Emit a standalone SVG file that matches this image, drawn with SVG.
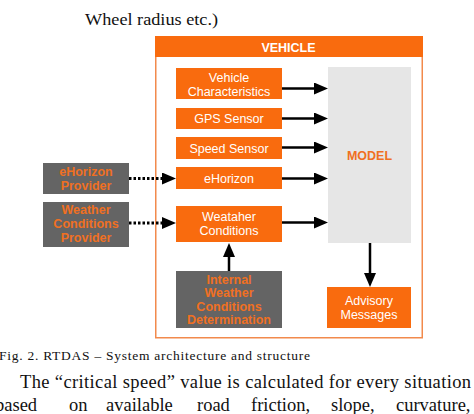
<svg xmlns="http://www.w3.org/2000/svg" width="474" height="414" viewBox="0 0 474 414">
<style>
.ob{fill:#f96b0e}
.gb{fill:#646464}
.wt{fill:#ffffff;font-family:"Liberation Sans",Arial,sans-serif;font-size:12.5px;text-anchor:middle}
.ot{fill:#f07022;font-family:"Liberation Sans",Arial,sans-serif;font-size:12.5px;font-weight:bold;text-anchor:middle}
.tm{fill:#111;font-family:"Liberation Serif","Times New Roman",serif}
.ar{stroke:#000;stroke-width:2.5;fill:none}
.dt{stroke:#000;stroke-width:3;fill:none;stroke-dasharray:2.5 2}
</style>
<defs>
<marker id="ah" markerUnits="userSpaceOnUse" markerWidth="14" markerHeight="12" refX="4" refY="6" orient="auto">
<path d="M0,0 L14,6 L0,12 z" fill="#000"/>
</marker>
</defs>
<rect width="474" height="414" fill="#fff"/>
<text class="tm" x="85" y="24.5" font-size="17.5" textLength="133" lengthAdjust="spacingAndGlyphs">Wheel radius etc.)</text>
<g id="vehicle">
<rect x="155.75" y="36.75" width="266.5" height="301" fill="#fff" stroke="#f28a4c" stroke-width="1.5"/>
<rect x="155" y="36" width="268" height="21" class="ob"/>
<text x="288.5" y="51.5" class="wt" font-weight="bold">VEHICLE</text>
</g>
<g id="vehicle-characteristics">
<rect x="176" y="68" width="106" height="31" class="ob"/>
<text class="wt" x="229" y="82">Vehicle</text>
<text class="wt" x="229" y="95.5">Characteristics</text>
</g>
<g id="gps-sensor">
<rect x="176" y="108" width="106" height="21" class="ob"/>
<text class="wt" x="229" y="123">GPS Sensor</text>
</g>
<g id="speed-sensor">
<rect x="176" y="137" width="106" height="22" class="ob"/>
<text class="wt" x="229" y="152.5">Speed Sensor</text>
</g>
<g id="ehorizon">
<rect x="176" y="167" width="106" height="22" class="ob"/>
<text class="wt" x="229" y="182.5">eHorizon</text>
</g>
<g id="weather-conditions">
<rect x="176" y="206" width="106" height="36" class="ob"/>
<text class="wt" x="229" y="221">Weataher</text>
<text class="wt" x="229" y="235">Conditions</text>
</g>
<g id="internal-weather">
<rect x="176" y="271" width="106" height="57" class="gb"/>
<text class="ot" x="229" y="283.5">Internal</text>
<text class="ot" x="229" y="297">Weather</text>
<text class="ot" x="229" y="310.5">Conditions</text>
<text class="ot" x="229" y="324">Determination</text>
</g>
<g id="model">
<rect x="328" y="67" width="83" height="176" fill="#e6e6e6"/>
<text class="ot" x="369.5" y="160" fill="#f2782e">MODEL</text>
</g>
<g id="advisory-messages">
<rect x="327" y="287" width="84" height="41" class="ob"/>
<text class="wt" x="369" y="305">Advisory</text>
<text class="wt" x="369" y="318.5">Messages</text>
</g>
<g id="ehorizon-provider">
<rect x="43" y="163" width="86" height="31" class="gb"/>
<text class="ot" x="86" y="176">eHorizon</text>
<text class="ot" x="86" y="189.5">Provider</text>
</g>
<g id="weather-provider">
<rect x="43" y="202" width="86" height="45" class="gb"/>
<text class="ot" x="86" y="214">Weather</text>
<text class="ot" x="86" y="228">Conditions</text>
<text class="ot" x="86" y="241.5">Provider</text>
</g>
<g id="connectors">
<line class="ar" x1="282" y1="88.5" x2="318" y2="88.5" marker-end="url(#ah)"/>
<line class="ar" x1="282" y1="118.5" x2="318" y2="118.5" marker-end="url(#ah)"/>
<line class="ar" x1="282" y1="147.5" x2="318" y2="147.5" marker-end="url(#ah)"/>
<line class="ar" x1="282" y1="178.5" x2="318" y2="178.5" marker-end="url(#ah)"/>
<line class="ar" x1="282" y1="222.5" x2="318" y2="222.5" marker-end="url(#ah)"/>
<line class="dt" x1="129" y1="178.5" x2="166" y2="178.5" marker-end="url(#ah)"/>
<line class="dt" x1="129" y1="223" x2="166" y2="223" marker-end="url(#ah)"/>
<line class="ar" x1="370" y1="243" x2="370" y2="277" marker-end="url(#ah)"/>
<line class="ar" x1="229" y1="271" x2="229" y2="253" marker-end="url(#ah)"/>
</g>
<text class="tm" x="-1" y="360" font-size="13.5" textLength="311" lengthAdjust="spacing">Fig. 2.  RTDAS – System architecture and structure</text>
<text class="tm" x="20" y="387.5" font-size="18.5" textLength="451" lengthAdjust="spacing">The “critical speed” value is calculated for every situation</text>
<text class="tm" y="410.5" font-size="18.5"><tspan x="-5">based</tspan><tspan x="69">on</tspan><tspan x="106">available</tspan><tspan x="197">road</tspan><tspan x="251">friction,</tspan><tspan x="331">slope,</tspan><tspan x="396">curvature,</tspan></text>
</svg>
